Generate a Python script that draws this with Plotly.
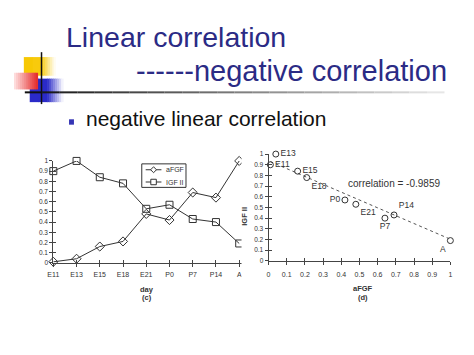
import plotly.graph_objects as go

# The page body has an 8px margin, so the figure is drawn 8px in and
# the layout is sized so the page exactly fills the 474x355 window.
OFF = 8
W, H = 474 - OFF, 355 - OFF


def px(x):
    return (x - OFF) / W


def py(y):
    return 1 - (y - OFF) / H


# ---------------- data ----------------
days = ["E11", "E13", "E15", "E18", "E21", "P0", "P7", "P14", "A"]
afgf = [0.01, 0.04, 0.16, 0.21, 0.48, 0.42, 0.69, 0.64, 1.0]
igf2 = [0.90, 1.00, 0.84, 0.78, 0.53, 0.57, 0.43, 0.40, 0.19]

pt_labels = ["E11", "E13", "E15", "E18", "E21", "P0", "P14", "P7", "A"]
pt_afgf = [0.01, 0.04, 0.16, 0.21, 0.48, 0.42, 0.69, 0.64, 1.0]
pt_igf2 = [0.90, 1.00, 0.84, 0.78, 0.53, 0.57, 0.43, 0.40, 0.19]
pt_pos = ["middle right", "middle right", "middle right", "bottom right",
          "bottom right", "middle left", "top right", "bottom center", "bottom left"]

trend_x = [0.01, 0.99]
trend_y = [0.93, 0.21]
corr_text = "correlation = -0.9859"

tick_vals = [0, 0.1, 0.2, 0.3, 0.4, 0.5, 0.6, 0.7, 0.8, 0.9, 1]
tick_text = ["0", "0.1", "0.2", "0.3", "0.4", "0.5", "0.6", "0.7", "0.8", "0.9", "1"]

series_names = ["aFGF", "IGF II"]

# ---------------- style ----------------
FONT = "Liberation Sans, Arial, sans-serif"
INK = "#333333"
NAVY = "#2B2B85"

fig = go.Figure()

# left chart (c)
fig.add_trace(go.Scatter(
    x=days, y=afgf, name=series_names[0], mode="lines+markers", cliponaxis=False,
    line=dict(color=INK, width=1), showlegend=False,
    marker=dict(symbol="diamond-open", size=7, color=INK, line=dict(width=1)),
    xaxis="x", yaxis="y"))
fig.add_trace(go.Scatter(
    x=days, y=igf2, name=series_names[1], mode="lines+markers", cliponaxis=False,
    line=dict(color=INK, width=1), showlegend=False,
    marker=dict(symbol="square-open", size=7, color=INK, line=dict(width=1)),
    xaxis="x", yaxis="y"))

# right chart (d)
fig.add_trace(go.Scatter(
    x=trend_x, y=trend_y, mode="lines", showlegend=False, hoverinfo="skip",
    line=dict(color="#555555", width=1, dash="dot"),
    xaxis="x2", yaxis="y2"))
fig.add_trace(go.Scatter(
    x=pt_afgf, y=pt_igf2, mode="markers+text", text=pt_labels,
    textposition=pt_pos, showlegend=False, cliponaxis=False,
    textfont=dict(family=FONT, size=8.5, color=INK),
    marker=dict(symbol="circle-open", size=6, color=INK, line=dict(width=1)),
    xaxis="x2", yaxis="y2"))

# dummy traces for the inner tick overlay axes
fig.add_trace(go.Scatter(x=[None], y=[None], showlegend=False, hoverinfo="skip",
                         xaxis="x3", yaxis="y3"))
fig.add_trace(go.Scatter(x=[None], y=[None], showlegend=False, hoverinfo="skip",
                         xaxis="x4", yaxis="y4"))

L_X = [px(48), px(239.5)]
L_Y = [py(264), py(160)]
R_X = [px(267), px(452)]
R_Y = [py(262), py(153)]

tickfont = dict(family=FONT, size=6.5, color=INK)
xtickfont = dict(family=FONT, size=7, color=INK)

common = dict(showgrid=False, zeroline=False, showline=True, linecolor="#444444",
              linewidth=1, ticks="outside", ticklen=3, tickcolor="#444444", tickwidth=1)
inner = dict(showgrid=False, zeroline=False, showline=False, showticklabels=False,
             ticks="inside", ticklen=3, tickcolor="#444444", tickwidth=1)

fig.update_layout(
    width=W, height=H, margin=dict(l=0, r=0, t=0, b=0),
    paper_bgcolor="white", plot_bgcolor="rgba(0,0,0,0)",
    font=dict(family=FONT, color=INK), showlegend=False,
    xaxis=dict(domain=L_X, anchor="y", type="category", range=[0, 8.1],
               tickfont=xtickfont, ticklabelstandoff=2, **common),
    yaxis=dict(domain=L_Y, anchor="x", range=[0, 1], tickvals=tick_vals,
               ticktext=tick_text, tickfont=tickfont, **common),
    xaxis2=dict(domain=R_X, anchor="y2", range=[0, 1], tickvals=tick_vals,
                ticktext=tick_text, tickfont=xtickfont, ticklabelstandoff=4, **common),
    yaxis2=dict(domain=R_Y, anchor="x2", range=[0, 1], tickvals=tick_vals,
                ticktext=tick_text, tickfont=tickfont, **common),
    xaxis3=dict(overlaying="x", anchor="y", range=[0, 8.1],
                tickvals=list(range(len(days))), **inner),
    yaxis3=dict(overlaying="y", anchor="x", range=[0, 1], tickvals=tick_vals, **inner),
    xaxis4=dict(overlaying="x2", anchor="y2", range=[0, 1], tickvals=tick_vals, **inner),
    yaxis4=dict(overlaying="y2", anchor="x2", range=[0, 1], tickvals=tick_vals, **inner),
)

# ---------------- decoration shapes ----------------
shapes = []
DX, DY = -4, -3  # small nudge for the slide decoration block


def hexmix(c1, c2, t):
    a = [int(c1[i:i + 2], 16) for i in (1, 3, 5)]
    b = [int(c2[i:i + 2], 16) for i in (1, 3, 5)]
    return "#%02x%02x%02x" % tuple(round(a[k] + (b[k] - a[k]) * t) for k in range(3))


def grad_rect(x0, x1, y0, y1, c_left, c_right, n=10):
    x0, x1, y0, y1 = x0 + DX, x1 + DX, y0 + DY, y1 + DY
    step = (x1 - x0) / n
    for i in range(n):
        shapes.append(dict(type="rect", xref="paper", yref="paper",
                           x0=px(x0 + i * step), x1=px(x0 + (i + 1) * step + 0.5),
                           y0=py(y1), y1=py(y0), line=dict(width=0),
                           fillcolor=hexmix(c_left, c_right, (i + 0.5) / n), layer="below"))


# yellow square
grad_rect(22, 40, 57, 76, "#F7C600", "#F8CC10", n=2)
grad_rect(40, 54, 57, 76, "#F8CC10", "#FFFFFF", n=8)
# blue square
grad_rect(28, 46, 79, 103, "#2A2AC8", "#2A2AC8", n=2)
grad_rect(46, 62, 79, 103, "#2A2AC8", "#FFFFFF", n=8)
# red square (fading to the left)
grad_rect(12, 36, 73, 90, "#FFE4E4", "#E42828", n=12)
# long fading horizontal rule
n_seg = 24
for i in range(n_seg):
    xa = 23 + DX + (450 - 23) * i / n_seg
    xb = 23 + DX + (450 - 23) * (i + 1) / n_seg
    shapes.append(dict(type="line", xref="paper", yref="paper",
                       x0=px(xa), x1=px(xb), y0=py(93 + DY), y1=py(93 + DY),
                       line=dict(color=hexmix("#111111", "#E6E6E6", i / (n_seg - 1)), width=2),
                       layer="below"))
# vertical black line
shapes.append(dict(type="line", xref="paper", yref="paper", x0=px(40 + DX), x1=px(40 + DX),
                   y0=py(52 + DY), y1=py(105 + DY), line=dict(color="#111111", width=1.5)))
# bullet square
shapes.append(dict(type="rect", xref="paper", yref="paper", x0=px(68 + DX), x1=px(73 + DX),
                   y0=py(126 + DY), y1=py(120.5 + DY), line=dict(width=0), fillcolor="#3535B5"))
# clip the right end of chart (c) like the original picture
shapes.append(dict(type="rect", xref="paper", yref="paper", x0=px(239.5), x1=px(248),
                   y0=py(292), y1=py(150), line=dict(width=0), fillcolor="white",
                   layer="above"))

# legend of chart (c): box, line samples and marker glyphs
LG_X0, LG_X1, LG_Y0, LG_Y1 = 138, 183, 163, 187
shapes.append(dict(type="rect", xref="paper", yref="paper", x0=px(LG_X0), x1=px(LG_X1),
                   y0=py(LG_Y1), y1=py(LG_Y0), line=dict(color=INK, width=1),
                   fillcolor="white", layer="above"))
row_y = [169, 181.5]
for k, yy in enumerate(row_y):
    shapes.append(dict(type="line", xref="paper", yref="paper", x0=px(142), x1=px(158),
                       y0=py(yy), y1=py(yy), line=dict(color=INK, width=1), layer="above"))
    cx = 150
    if k == 0:
        path = "M {} {} L {} {} L {} {} L {} {} Z".format(
            px(cx - 3), py(yy), px(cx), py(yy - 3), px(cx + 3), py(yy), px(cx), py(yy + 3))
        shapes.append(dict(type="path", xref="paper", yref="paper", path=path,
                           line=dict(color=INK, width=1), fillcolor="white", layer="above"))
    else:
        shapes.append(dict(type="rect", xref="paper", yref="paper", x0=px(cx - 2.8),
                           x1=px(cx + 2.8), y0=py(yy + 2.8), y1=py(yy - 2.8),
                           line=dict(color=INK, width=1), fillcolor="white", layer="above"))
fig.update_layout(shapes=shapes)

# ---------------- texts ----------------
ann = []
ann.append(dict(text="Linear correlation", x=px(59), y=py(34), xanchor="left",
                yanchor="middle", font=dict(family=FONT, size=28.5, color=NAVY)))
ann.append(dict(text="------negative correlation", x=px(130), y=py(68), xanchor="left",
                yanchor="middle", font=dict(family=FONT, size=29, color=NAVY)))
ann.append(dict(text="negative linear correlation", x=px(79), y=py(117), xanchor="left",
                yanchor="middle", font=dict(family=FONT, size=21, color="#111111")))
bold7 = dict(family=FONT, size=7.5, color=INK)
ann.append(dict(text="<b>day</b>", x=px(143), y=py(291), xanchor="center",
                yanchor="middle", font=bold7))
ann.append(dict(text="<b>(c)</b>", x=px(143), y=py(299), xanchor="center",
                yanchor="middle", font=bold7))
ann.append(dict(text="<b>aFGF</b>", x=px(363), y=py(290), xanchor="center",
                yanchor="middle", font=bold7))
ann.append(dict(text="<b>(d)</b>", x=px(363), y=py(299), xanchor="center",
                yanchor="middle", font=bold7))
ann.append(dict(text="<b>IGF II</b>", x=px(243), y=py(216), xanchor="center",
                yanchor="middle", textangle=-90, font=bold7))
ann.append(dict(text=corr_text, x=px(394.5), y=py(183), xanchor="center",
                yanchor="middle", font=dict(family=FONT, size=10, color=INK)))
legend_font = dict(family=FONT, size=7, color=INK)
for name, yy in zip(series_names, row_y):
    ann.append(dict(text=name, x=px(161), y=py(yy), xanchor="left", yanchor="middle",
                    font=legend_font))
for a in ann:
    a.update(xref="paper", yref="paper", showarrow=False)
fig.update_layout(annotations=ann)

fig.write_html("out.html")
